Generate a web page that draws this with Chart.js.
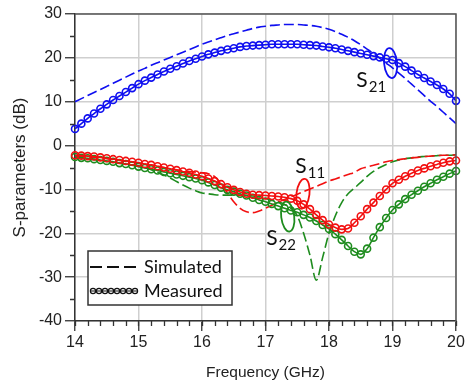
<!DOCTYPE html>
<html>
<head>
<meta charset="utf-8">
<script src="https://cdn.jsdelivr.net/npm/chart.js@4.4.1/dist/chart.umd.min.js"></script>
<style>
  html, body { margin: 0; padding: 0; background: #fff; }
</style>
</head>
<body>
<canvas id="chart" width="474" height="388"></canvas>
<script>
// S-parameters, 14–20 GHz, sampled every 0.1 GHz
const FREQ = [
  14.0, 14.1, 14.2, 14.3, 14.4, 14.5, 14.6, 14.7, 14.8, 14.9,
  15.0, 15.1, 15.2, 15.3, 15.4, 15.5, 15.6, 15.7, 15.8, 15.9,
  16.0, 16.1, 16.2, 16.3, 16.4, 16.5, 16.6, 16.7, 16.8, 16.9,
  17.0, 17.1, 17.2, 17.3, 17.4, 17.5, 17.6, 17.7, 17.8, 17.9,
  18.0, 18.1, 18.2, 18.3, 18.4, 18.5, 18.6, 18.7, 18.8, 18.9,
  19.0, 19.1, 19.2, 19.3, 19.4, 19.5, 19.6, 19.7, 19.8, 19.9,
  20.0
];

const S21_SIM = [
  10.0, 10.7, 11.4, 12.1, 12.8, 13.5, 14.2, 14.9, 15.6, 16.3,
  17.0, 17.6, 18.3, 18.9, 19.5, 20.1, 20.7, 21.3, 21.9, 22.5,
  23.1, 23.6, 24.1, 24.6, 25.1, 25.5, 25.9, 26.3, 26.7, 27.0,
  27.2, 27.4, 27.5, 27.6, 27.6, 27.6, 27.5, 27.4, 27.2, 26.9,
  26.5, 26.0, 25.4, 24.7, 23.9, 23.0, 22.0, 21.0, 19.9, 18.8,
  17.7, 16.5, 15.3, 14.0, 12.7, 11.4, 10.1, 8.9, 7.6, 6.3,
  5.0
];
const S21_MEAS = [
  3.8, 5.0, 6.2, 7.3, 8.4, 9.4, 10.4, 11.3, 12.2, 13.1,
  14.0, 14.8, 15.5, 16.2, 16.9, 17.5, 18.1, 18.7, 19.3, 19.8,
  20.3, 20.8, 21.2, 21.6, 21.9, 22.2, 22.5, 22.7, 22.8, 22.9,
  23.0, 23.1, 23.1, 23.1, 23.1, 23.1, 23.0, 22.9, 22.8, 22.6,
  22.4, 22.2, 21.9, 21.6, 21.3, 21.0, 20.7, 20.4, 20.1, 19.8,
  19.5, 18.8, 18.0, 17.1, 16.2, 15.4, 14.6, 13.8, 12.9, 11.8,
  10.2
];

const S11_SIM = [
  -2.4, -2.5, -2.6, -2.7, -2.8, -3.0, -3.2, -3.4, -3.6, -3.8,
  -4.0, -4.2, -4.5, -4.7, -5.0, -5.2, -5.5, -5.7, -5.9, -6.1,
  -6.2, -6.4, -7.1, -8.8, -10.8, -12.8, -14.3, -15.1, -15.3, -14.9,
  -14.3, -13.6, -12.9, -12.3, -11.7, -11.1, -10.5, -9.9, -9.3, -8.7,
  -8.1, -7.6, -7.1, -6.6, -6.1, -5.3, -4.9, -4.5, -4.1, -3.7,
  -3.4, -3.2, -3.0, -2.8, -2.7, -2.5, -2.4, -2.3, -2.2, -2.2,
  -2.1
];
const S11_MEAS = [
  -2.2, -2.3, -2.4, -2.5, -2.7, -2.9, -3.1, -3.3, -3.5, -3.7,
  -3.9, -4.2, -4.4, -4.7, -5.0, -5.3, -5.6, -5.9, -6.2, -6.6,
  -7.0, -7.5, -8.1, -8.8, -9.5, -10.1, -10.6, -11.0, -11.2, -11.3,
  -11.4, -11.5, -11.6, -11.8, -12.1, -12.6, -13.4, -14.5, -15.8, -17.0,
  -18.0, -18.7, -19.1, -18.9, -17.6, -16.1, -14.5, -13.0, -11.5, -10.0,
  -8.6, -7.8, -7.0, -6.3, -5.7, -5.2, -4.7, -4.3, -3.9, -3.6,
  -3.4
];

const S22_SIM = [
  -2.7, -2.8, -3.0, -3.2, -3.4, -3.6, -3.8, -4.0, -4.2, -4.4,
  -4.6, -5.0, -5.5, -6.1, -6.7, -7.4, -8.2, -9.0, -9.7, -10.3,
  -10.8, -11.0, -11.2, -11.3, -11.3, -11.3, -11.3, -11.4, -11.5, -11.7,
  -12.0, -12.4, -12.8, -13.4, -14.3, -16.0, -20.0, -25.0, -30.7, -25.5,
  -20.0, -16.0, -13.0, -11.0, -9.7, -8.4, -7.0, -5.9, -5.0, -4.3,
  -3.7, -3.3, -3.0, -2.8, -2.6, -2.5, -2.4, -2.3, -2.2, -2.2,
  -2.1
];
const S22_MEAS = [
  -2.6, -2.8, -2.9, -3.1, -3.3, -3.5, -3.7, -4.0, -4.2, -4.5,
  -4.8, -5.1, -5.4, -5.7, -6.0, -6.3, -6.6, -6.9, -7.2, -7.5,
  -7.9, -8.4, -9.0, -9.6, -10.1, -10.5, -11.0, -11.4, -11.9, -12.4,
  -12.8, -13.3, -13.8, -14.3, -14.8, -15.2, -15.8, -16.4, -17.2, -18.1,
  -19.0, -20.2, -21.5, -22.9, -24.2, -24.8, -23.5, -21.0, -18.6, -16.5,
  -14.7, -13.4, -12.2, -11.2, -10.3, -9.4, -8.6, -7.8, -7.1, -6.4,
  -5.8
];

const X_TICKS = [14, 15, 16, 17, 18, 19, 20];
const Y_TICKS = [-40, -30, -20, -10, 0, 10, 20, 30];

// label callouts: [name, subscript, ellipse centre freq, ellipse centre dB, label freq, label dB]
const CALLOUTS = [
  ['S', '21', 18.97, 18.8, 18.43, 13.3],
  ['S', '11', 17.59, -11.0, 17.47, -6.3],
  ['S', '22', 17.35, -16.2, 17.01, -22.6],
];

const BLUE = '#0f0ff0';
const RED = '#f21010';
const GREEN = '#1e8c1e';
const AXIS = '#333';

const pts = ys => FREQ.map((f, i) => ({ x: f, y: ys[i] }));

function simulated(ys, color, order) {
  return {
    data: pts(ys), borderColor: color, borderWidth: 1.6,
    borderDash: [10, 4], pointRadius: 0, tension: 0.4,
    cubicInterpolationMode: 'monotone', order,
  };
}
function measured(ys, color, order) {
  return {
    data: pts(ys), borderColor: color, borderWidth: 1.6,
    pointRadius: 3.5, pointBorderWidth: 1.6, pointBorderColor: color,
    pointBackgroundColor: 'rgba(255,255,255,0)', tension: 0.4,
    cubicInterpolationMode: 'monotone', clip: false, order,
  };
}

const extras = {
  id: 'extras',
  afterDraw(chart) {
    const { ctx, chartArea: a, scales: { x, y } } = chart;
    ctx.save();

    // frame on top and right
    ctx.strokeStyle = '#555';
    ctx.lineWidth = 1.5;
    ctx.beginPath();
    ctx.moveTo(a.left, a.top); ctx.lineTo(a.right, a.top); ctx.lineTo(a.right, a.bottom);
    ctx.stroke();

    // minor ticks
    ctx.strokeStyle = AXIS;
    ctx.lineWidth = 1.3;
    ctx.beginPath();
    for (let f = 14; f < 20; f += 0.2) {
      const px = Math.round(x.getPixelForValue(f)) + 0.5;
      ctx.moveTo(px, a.bottom); ctx.lineTo(px, a.bottom + 5);
    }
    for (let v = -35; v < 30; v += 10) {
      const py = Math.round(y.getPixelForValue(v)) + 0.5;
      ctx.moveTo(a.left, py); ctx.lineTo(a.left - 5, py);
    }
    ctx.stroke();

    // callout ellipses and labels
    const colors = [BLUE, RED, GREEN];
    const tilt = [-0.1, 0.12, -0.12];
    CALLOUTS.forEach(([s, sub, ef, ed, lf, ld], i) => {
      ctx.strokeStyle = colors[i];
      ctx.lineWidth = 1.8;
      ctx.beginPath();
      ctx.ellipse(x.getPixelForValue(ef), y.getPixelForValue(ed), 6.5, 15, tilt[i], 0, Math.PI * 2);
      ctx.stroke();
      const lx = x.getPixelForValue(lf), ly = y.getPixelForValue(ld);
      ctx.fillStyle = '#111';
      ctx.textBaseline = 'alphabetic';
      ctx.textAlign = 'left';
      ctx.font = '21px Lato';
      ctx.fillText(s, lx, ly);
      const w = ctx.measureText(s).width;
      ctx.font = '15px Lato';
      ctx.fillText(sub, lx + w + 1, ly + 5);
    });

    // legend box
    const bx = a.left + 13, by = a.top + 237, bw = 144, bh = 54;
    ctx.fillStyle = '#fff';
    ctx.fillRect(bx, by, bw, bh);
    ctx.strokeStyle = '#333';
    ctx.lineWidth = 1.5;
    ctx.strokeRect(bx, by, bw, bh);

    ctx.strokeStyle = '#111';
    ctx.lineWidth = 2;
    ctx.setLineDash([12, 5]);
    ctx.beginPath();
    ctx.moveTo(bx + 2, by + 16); ctx.lineTo(bx + 50, by + 16);
    ctx.stroke();
    ctx.setLineDash([]);

    ctx.lineWidth = 1.2;
    ctx.beginPath();
    ctx.moveTo(bx + 2, by + 40); ctx.lineTo(bx + 50, by + 40);
    ctx.stroke();
    for (let k = 0; k < 8; k++) {
      ctx.beginPath();
      ctx.arc(bx + 5 + k * 6, by + 40, 2.6, 0, Math.PI * 2);
      ctx.stroke();
    }

    ctx.fillStyle = '#111';
    ctx.font = '18px Lato';
    ctx.textBaseline = 'middle';
    ctx.fillText('Simulated', bx + 56, by + 16);
    ctx.fillText('Measured', bx + 56, by + 40);
    ctx.restore();
  }
};

new Chart(document.getElementById('chart'), {
  type: 'line',
  data: {
    datasets: [
      measured(S21_MEAS, BLUE, 1),
      simulated(S21_SIM, BLUE, 2),
      measured(S11_MEAS, RED, 3),
      measured(S22_MEAS, GREEN, 4),
      simulated(S11_SIM, RED, 5),
      simulated(S22_SIM, GREEN, 6),
    ],
  },
  options: {
    responsive: false,
    animation: false,
    layout: { padding: { top: 14, right: 18, left: 0, bottom: 0 } },
    plugins: { legend: { display: false }, tooltip: { enabled: false } },
    scales: {
      x: {
        type: 'linear', min: 14, max: 20,
        afterBuildTicks: s => { s.ticks = X_TICKS.map(v => ({ value: v })); },
        afterFit: s => { s.height = 67; },
        grid: { color: '#cfcfcf', lineWidth: 1.5, tickColor: AXIS, tickLength: 10, tickWidth: 1.3 },
        border: { color: AXIS, width: 1.5 },
        ticks: { color: '#222', font: { size: 16, family: 'Liberation Sans' }, padding: 2, maxRotation: 0 },
        title: { display: true, text: 'Frequency (GHz)', color: '#222',
                 font: { size: 15.5, family: 'Liberation Sans' }, padding: { top: 0, bottom: 6 } },
      },
      y: {
        min: -40, max: 30,
        afterBuildTicks: s => { s.ticks = Y_TICKS.map(v => ({ value: v })); },
        afterFit: s => { s.width = 75; },
        grid: { color: '#cfcfcf', lineWidth: 1.5, tickColor: AXIS, tickLength: 10, tickWidth: 1.3 },
        border: { color: AXIS, width: 1.5 },
        ticks: { color: '#222', font: { size: 16, family: 'Liberation Sans' }, padding: 3 },
        title: { display: true, text: 'S-parameters (dB)', color: '#222',
                 font: { size: 17, family: 'Liberation Sans' }, padding: { top: 10, bottom: 0 } },
      },
    },
  },
  plugins: [extras],
});
</script>
</body>
</html>
